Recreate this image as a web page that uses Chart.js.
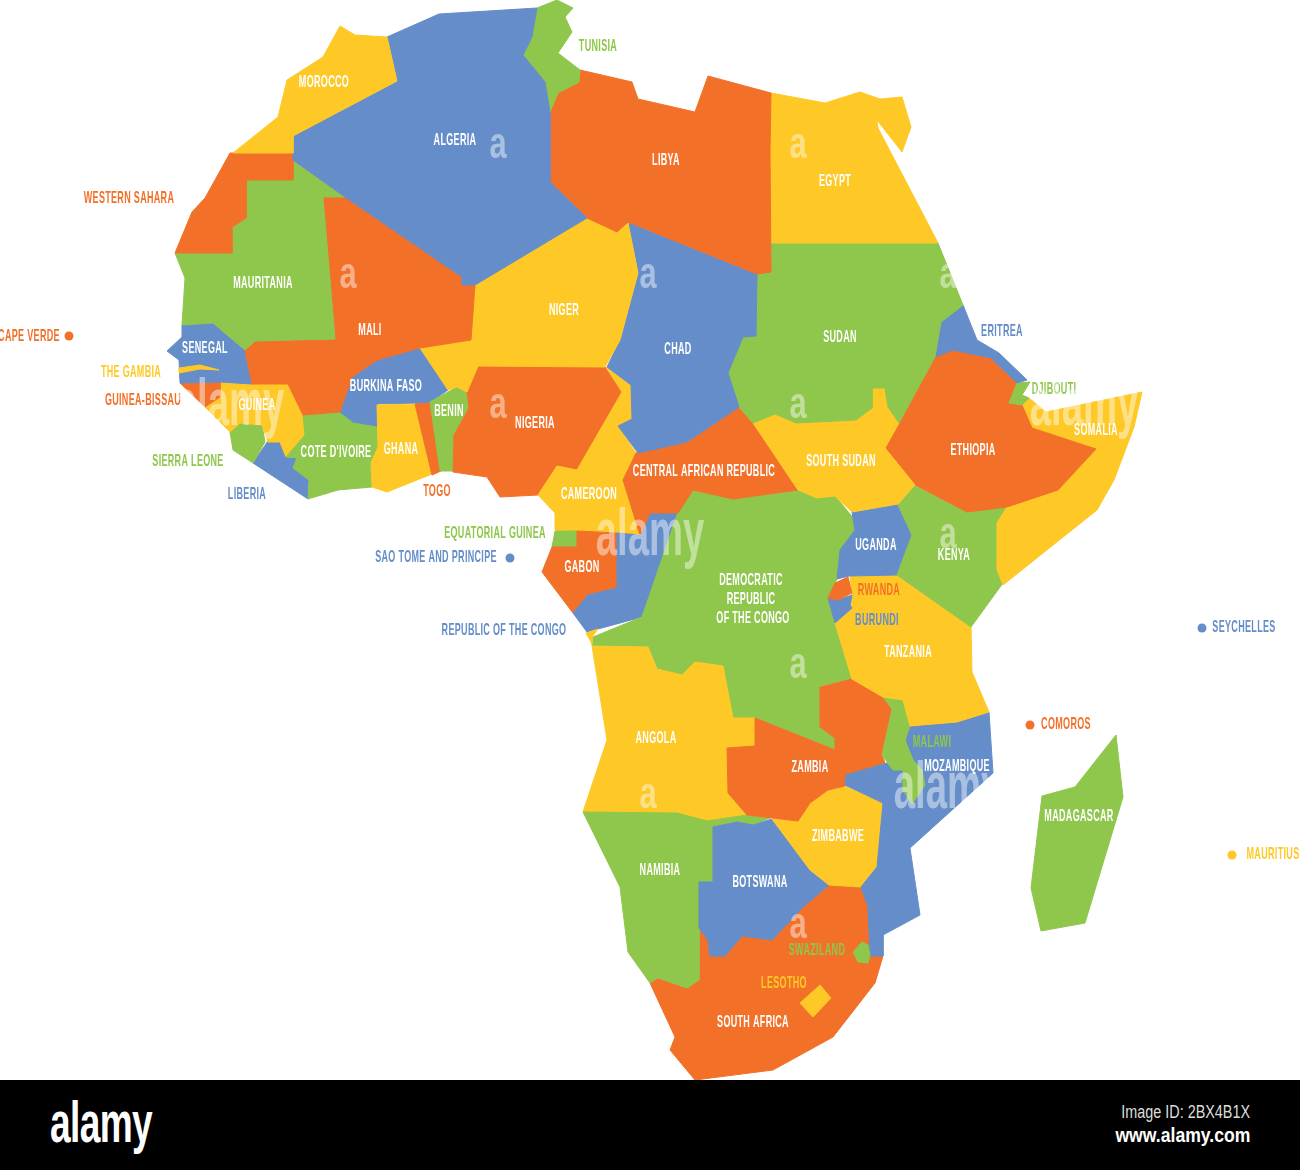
<!DOCTYPE html>
<html>
<head>
<meta charset="utf-8">
<title>Africa</title>
<script src="https://cdn.jsdelivr.net/npm/chart.js@4"></script>
<style>
  html, body { margin: 0; padding: 0; background: #fff; }
  #wrap { position: relative; width: 1300px; height: 1080px; }
  #footer { position: relative; width: 1300px; height: 90px; background: #000; color: #fff; font-family: "Liberation Sans", sans-serif; }
  #logo { position: absolute; left: 50px; top: 8px; font-size: 58px; font-weight: bold; letter-spacing: -1px; transform: scaleX(.64); transform-origin: left; }
  #imgid { position: absolute; right: 50px; top: 22px; font-size: 18px; color: #ddd; transform: scaleX(.8); transform-origin: right; }
  #site { position: absolute; right: 50px; top: 44px; font-size: 20px; font-weight: bold; transform: scaleX(.88); transform-origin: right; }
</style>
</head>
<body>
<div id="wrap"><canvas id="map" width="1300" height="1080"></canvas></div>
<div id="footer">
  <div id="logo">alamy</div>
  <div id="imgid">Image ID: 2BX4B1X</div>
  <div id="site">www.alamy.com</div>
</div>
<script>
"use strict";

// ── Country outlines ─────────────────────────────────────────────────────────

const morocco = [[233,153],[278,117],[287,80],[323,57],[340,26],[355,35],[387,37],[397,81],[293,136],[293,153]];
const algeria = [[293,136],[397,81],[387,37],[439,14],[537,8],[532,37],[523,55],[545,82],[550,112],[550,182],[587,218],[475,285],[462,285],[462,277],[345,197],[293,160]];
const tunisia = [[537,8],[557,0],[573,8],[565,17],[572,32],[558,53],[580,70],[579,82],[558,93],[550,112],[545,82],[523,55],[532,37]];
const libya = [[580,70],[632,82],[638,99],[695,112],[708,76],[771,93],[770,150],[771,272],[757,274],[628,222],[617,232],[587,218],[550,182],[550,112],[558,93],[579,82]];
const egypt = [[771,93],[825,103],[860,92],[880,99],[902,97],[911,127],[902,152],[877,120],[878,128],[938,243],[771,243],[770,150]];
const westernSahara = [[230,153],[293,153],[293,180],[246,180],[246,218],[231,228],[232,253],[175,253],[192,212],[205,198]];
const mauritania = [[293,160],[345,197],[323,197],[335,339],[255,341],[245,350],[213,323],[182,325],[185,278],[175,253],[232,253],[231,228],[246,218],[246,180],[293,180]];
const mali = [[323,197],[345,197],[462,277],[462,285],[475,285],[471,340],[420,348],[377,360],[352,377],[340,412],[303,415],[288,384],[252,384],[245,350],[255,341],[335,339]];
const niger = [[475,285],[587,218],[628,223],[638,273],[620,340],[605,367],[478,366],[467,392],[457,387],[448,390],[420,348],[471,340]];
const chad = [[628,222],[757,274],[756,336],[743,337],[728,373],[739,407],[687,442],[638,453],[618,426],[632,419],[631,385],[607,367],[620,340],[638,273]];
const sudan = [[756,273],[771,272],[771,243],[938,243],[963,305],[941,322],[935,357],[899,423],[888,407],[885,388],[872,388],[872,408],[856,420],[796,423],[775,414],[753,423],[739,407],[728,373],[743,337],[756,336]];
const southSudan = [[753,423],[775,414],[796,423],[856,420],[872,408],[872,388],[885,388],[888,407],[899,423],[885,448],[915,485],[898,504],[852,512],[835,496],[817,498],[798,490]];
const centralAfricanRepublic = [[636,453],[687,442],[739,407],[753,423],[798,490],[733,499],[693,490],[678,513],[650,513],[640,535],[623,480]];
const eritrea = [[963,305],[977,340],[999,353],[1027,380],[1017,383],[991,358],[953,350],[935,357],[941,322]];
const djibouti = [[1017,383],[1030,382],[1022,395],[1029,398],[1022,405],[1009,403]];
const ethiopia = [[932,357],[953,350],[991,358],[1017,383],[1009,403],[1022,405],[1032,428],[1096,449],[1058,490],[1007,507],[967,512],[915,485],[885,448],[899,423]];
const somalia = [[1022,405],[1029,398],[1046,412],[1142,392],[1134,427],[1114,480],[1097,510],[1003,585],[997,570],[997,523],[1007,507],[1058,490],[1096,449],[1032,428]];
const kenya = [[913,485],[967,512],[1007,507],[997,523],[997,570],[1003,583],[971,627],[897,575],[912,535],[898,505]];
const uganda = [[852,512],[898,504],[912,535],[897,575],[849,576],[837,579],[840,550],[855,530]];
const rwanda = [[848,577],[852,593],[838,600],[828,598],[835,583]];
const burundi = [[828,598],[838,600],[852,595],[850,605],[852,608],[835,623]];
const tanzania = [[850,576],[897,575],[971,627],[972,672],[989,712],[957,722],[910,726],[903,700],[883,697],[852,679],[835,623],[852,608],[850,605],[852,593]];
const malawi = [[883,697],[903,700],[910,726],[905,740],[913,760],[922,770],[925,785],[912,804],[903,790],[903,770],[893,770],[882,755],[892,709]];
const mozambique = [[989,712],[993,773],[910,848],[920,915],[883,935],[883,956],[870,956],[868,907],[861,887],[877,867],[883,803],[845,785],[846,775],[887,763],[893,770],[903,770],[903,790],[912,804],[925,785],[922,770],[913,760],[905,740],[910,726],[957,722]];
const zambia = [[755,718],[835,750],[835,738],[820,727],[820,687],[852,679],[884,698],[892,709],[882,755],[885,763],[845,777],[845,786],[828,790],[810,803],[798,821],[772,818],[747,815],[728,793],[727,748],[755,746]];
const zimbabwe = [[845,786],[883,803],[877,867],[861,887],[829,885],[810,870],[772,819],[798,821],[810,803],[828,790]];
const botswana = [[772,819],[810,870],[829,885],[803,907],[772,940],[742,936],[725,956],[710,956],[708,940],[699,928],[699,882],[713,882],[713,827],[737,822],[753,825]];
const namibia = [[583,812],[677,813],[707,821],[747,815],[770,818],[753,825],[737,822],[713,827],[713,882],[699,882],[699,980],[687,988],[658,978],[650,983],[628,952],[620,887]];
const angola = [[592,646],[648,647],[657,669],[682,675],[695,662],[723,666],[733,718],[755,718],[755,746],[727,748],[728,793],[747,815],[707,821],[677,813],[583,812],[607,740]];
const cabinda = [[586,633],[598,629],[592,637],[592,644]];
const southAfrica = [[650,983],[658,978],[687,988],[699,980],[699,928],[708,940],[710,956],[725,956],[742,936],[772,940],[803,907],[829,885],[861,887],[868,907],[870,956],[883,956],[875,983],[833,1037],[773,1070],[695,1080],[670,1050],[675,1037]];
const swaziland = [[862,942],[868,945],[870,955],[868,963],[858,962],[853,952]];
const lesotho = [[820,985],[831,998],[813,1017],[800,1003]];
const drc = [[693,490],[733,499],[798,490],[817,498],[835,496],[855,520],[855,530],[840,550],[837,579],[828,598],[835,623],[852,679],[820,686],[820,727],[835,738],[835,750],[755,718],[733,718],[723,666],[695,662],[682,675],[657,669],[648,647],[592,646],[593,637],[642,617],[678,512]];
const congo = [[650,513],[678,513],[642,617],[587,632],[573,613],[588,595],[617,588],[617,533],[640,535]];
const gabon = [[577,531],[617,533],[617,588],[588,595],[573,613],[542,572],[552,547],[577,547]];
const equatorialGuinea = [[555,531],[577,531],[577,547],[552,547]];
const cameroon = [[538,495],[557,466],[577,470],[622,392],[606,367],[631,385],[632,419],[618,426],[636,453],[623,480],[640,535],[555,530],[555,513]];
const nigeria = [[478,366],[605,367],[622,392],[577,470],[557,466],[538,495],[500,497],[487,477],[453,472],[454,435],[469,408],[467,392]];
const benin = [[457,387],[467,392],[469,408],[454,435],[453,471],[440,471],[433,422],[430,402]];
const togo = [[415,404],[430,403],[441,471],[432,475]];
const ghana = [[377,405],[415,404],[432,474],[387,492],[372,487],[371,463],[378,447]];
const burkinaFaso = [[420,348],[448,390],[429,403],[377,404],[377,426],[353,422],[340,412],[352,377],[377,360]];
const coteDivoire = [[340,412],[353,422],[377,426],[378,447],[371,463],[372,487],[338,490],[308,499],[309,480],[293,468],[297,458],[286,457],[305,435],[303,415]];
const senegal = [[182,325],[213,323],[245,350],[252,384],[220,382],[180,383],[179,360],[167,351],[182,337]];
const gambia = [[179,368],[200,365],[219,370],[200,369],[179,373]];
const guineaBissau = [[180,383],[220,382],[220,397],[205,407]];
const guinea = [[221,382],[288,384],[303,415],[305,435],[286,457],[280,442],[268,442],[262,425],[240,423],[230,432],[205,407],[220,397]];
const sierraLeone = [[230,432],[240,423],[262,425],[265,442],[253,463],[233,450]];
const liberia = [[268,441],[280,442],[286,457],[297,458],[293,468],[309,480],[308,499],[253,463]];
const madagascar = [[1116,735],[1123,797],[1085,923],[1041,931],[1031,888],[1042,796],[1075,787]];

// enclaves come first, chart.js paints dataset 0 last
const enclaves = [gambia, lesotho, swaziland, cabinda];
const mainland = [
  morocco, algeria, tunisia, libya, egypt, westernSahara, mauritania, mali, niger, chad, sudan, southSudan,
  centralAfricanRepublic, eritrea, djibouti, ethiopia, somalia, kenya, uganda, rwanda, burundi, tanzania,
  malawi, mozambique, zambia, zimbabwe, botswana, namibia, angola, southAfrica, drc, congo, gabon,
  equatorialGuinea, cameroon, nigeria, benin, togo, ghana, burkinaFaso, coteDivoire, senegal, guineaBissau,
  guinea, sierraLeone, liberia, madagascar,
];

// ── Colour groups ────────────────────────────────────────────────────────────

const BLUE = "#648dc9";
const ORANGE = "#f37029";
const YELLOW = "#fec926";
const GREEN = "#8fc64c";

const blueShapes = [algeria, chad, eritrea, uganda, burundi, mozambique, botswana, congo, burkinaFaso, senegal, liberia];
const orangeShapes = [libya, westernSahara, mali, ethiopia, rwanda, zambia, southAfrica, gabon, nigeria, togo, guineaBissau, centralAfricanRepublic];
const yellowShapes = [morocco, egypt, niger, somalia, tanzania, zimbabwe, angola, cabinda, lesotho, cameroon, ghana, guinea, gambia, southSudan];

function shapeColor(shape) {
  if (blueShapes.includes(shape)) return BLUE;
  if (orangeShapes.includes(shape)) return ORANGE;
  if (yellowShapes.includes(shape)) return YELLOW;
  return GREEN;
}

// ── Island and small state dots ──────────────────────────────────────────────

const dotPoints = [[69,336],[510,558],[1202,628],[1030,725],[1232,855]];
const dotColors = [ORANGE, BLUE, BLUE, ORANGE, YELLOW];

// ── Labels ───────────────────────────────────────────────────────────────────

const insideNames = ["MOROCCO","ALGERIA","LIBYA","EGYPT","MAURITANIA","MALI","NIGER","CHAD","SUDAN","SENEGAL","GUINEA","BURKINA FASO","BENIN","NIGERIA","SOMALIA","ETHIOPIA","SOUTH SUDAN","CENTRAL AFRICAN REPUBLIC","GHANA","COTE D'IVOIRE","CAMEROON","GABON","UGANDA","KENYA","DEMOCRATIC","REPUBLIC","OF THE CONGO","TANZANIA","ANGOLA","MOZAMBIQUE","ZAMBIA","MADAGASCAR","ZIMBABWE","NAMIBIA","BOTSWANA","SOUTH AFRICA"];
const insidePoints = [[324,82],[455,140],[666,160],[835,181],[263,283],[370,330],[564,310],[678,349],[840,337],[205,348],[257,405],[386,386],[449,411],[535,423],[1096,430],[973,450],[841,461],[704,471],[401,449],[336,452],[589,494],[582,567],[876,545],[954,555],[751,580],[751,599],[753,618],[908,652],[656,738],[957,766],[810,767],[1079,816],[838,836],[660,870],[760,882],[753,1022]];

const blueNames = ["ERITREA","LIBERIA","SAO TOME AND PRINCIPE","BURUNDI","REPUBLIC OF THE CONGO","SEYCHELLES"];
const bluePoints = [[1002,331],[247,494],[436,557],[877,620],[504,630],[1244,627]];
const orangeNames = ["WESTERN SAHARA","CAPE VERDE","GUINEA-BISSAU","TOGO","RWANDA","COMOROS"];
const orangePoints = [[129,198],[29,336],[143,400],[437,491],[879,590],[1066,724]];
const yellowNames = ["THE GAMBIA","LESOTHO","MAURITIUS"];
const yellowPoints = [[131,372],[784,983],[1273,854]];
const greenNames = ["TUNISIA","DJIBOUTI","SIERRA LEONE","EQUATORIAL GUINEA","MALAWI","SWAZILAND"];
const greenPoints = [[598,46],[1054,389],[188,461],[495,533],[932,742],[817,950]];

const markSmall = [[498,146],[798,146],[348,276],[648,276],[948,276],[498,406],[798,406],[948,536],[798,666],[648,796],[798,926]];
const markLarge = [[650,537],[230,407],[1084,407],[948,790]];

// ── Chart ────────────────────────────────────────────────────────────────────

const toXY = (shape) => shape.map(([x, y]) => ({ x, y }));

function shapeDataset(shape) {
  const color = shapeColor(shape);
  return {
    data: toXY([...shape, shape[0]]),
    showLine: true,
    fill: "shape",
    backgroundColor: color,
    borderColor: color,
    borderWidth: 1,
    tension: 0,
    pointRadius: 0,
  };
}

// the labels use a tall condensed face, so squeeze the text sideways
function drawSqueezed(chart, text, at, font, squeeze, spacing) {
  const { ctx, scales } = chart;
  ctx.save();
  ctx.font = font;
  ctx.letterSpacing = spacing;
  ctx.textAlign = "center";
  ctx.textBaseline = "middle";
  ctx.translate(scales.x.getPixelForValue(at[0]), scales.y.getPixelForValue(at[1]));
  ctx.scale(squeeze, 1);
  ctx.fillText(text, 0, 0);
  ctx.restore();
}

function drawGroup(chart, names, points, color) {
  chart.ctx.fillStyle = color;
  names.forEach((name, i) => {
    drawSqueezed(chart, name, points[i], 'bold 17px "Liberation Sans", sans-serif', 0.53, "0.6px");
  });
}

const mapLabels = {
  id: "mapLabels",
  afterDatasetsDraw(chart) {
    const { ctx } = chart;
    drawGroup(chart, insideNames, insidePoints, "#fff");
    drawGroup(chart, blueNames, bluePoints, BLUE);
    drawGroup(chart, orangeNames, orangePoints, ORANGE);
    drawGroup(chart, yellowNames, yellowPoints, YELLOW);
    drawGroup(chart, greenNames, greenPoints, GREEN);

    // stock photo watermark
    ctx.fillStyle = "rgba(255,255,255,.45)";
    markSmall.forEach((at) => drawSqueezed(chart, "a", at, 'bold 44px "Liberation Sans", sans-serif', 0.7, "0px"));
    markLarge.forEach((at) => drawSqueezed(chart, "alamy", at, 'bold 66px "Liberation Sans", sans-serif', 0.58, "0px"));
  },
};

new Chart(document.getElementById("map"), {
  type: "scatter",
  data: {
    datasets: [
      {
        data: toXY(dotPoints),
        backgroundColor: dotColors,
        borderWidth: 0,
        pointRadius: 4.5,
      },
      ...enclaves.map(shapeDataset),
      ...mainland.map(shapeDataset),
    ],
  },
  options: {
    responsive: false,
    animation: false,
    devicePixelRatio: 1,
    layout: { padding: 0, autoPadding: false },
    plugins: { legend: { display: false }, tooltip: { enabled: false } },
    scales: {
      x: { type: "linear", display: false, min: 0, max: 1300 },
      y: { type: "linear", display: false, min: 0, max: 1080, reverse: true },
    },
  },
  plugins: [mapLabels],
});
</script>
</body>
</html>
